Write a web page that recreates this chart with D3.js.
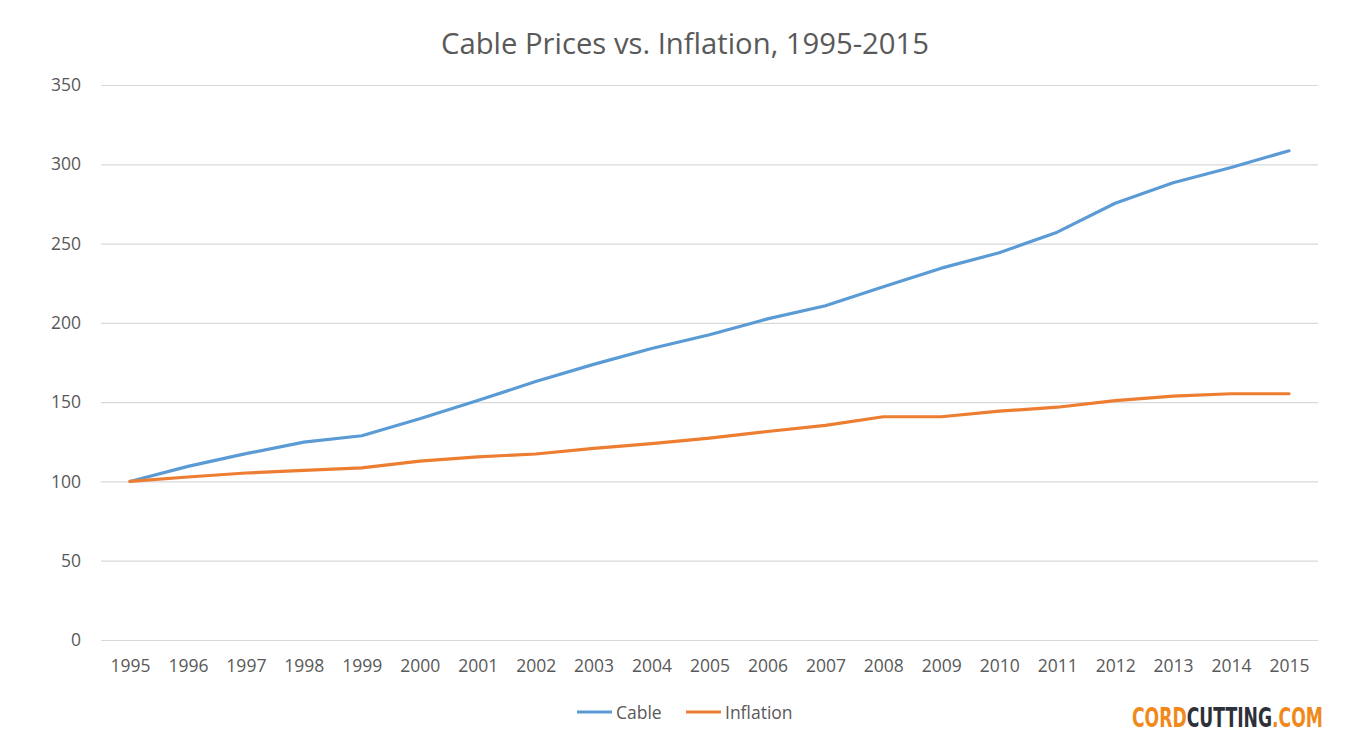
<!DOCTYPE html>
<html>
<head>
<meta charset="utf-8">
<script src="https://cdn.jsdelivr.net/npm/d3@7"></script>
<style>
  html, body { margin: 0; padding: 0; background: #fff; }
  svg { display: block; }
</style>
</head>
<body>
<svg id="chart"></svg>
<script>
const years = ["1995","1996","1997","1998","1999","2000","2001","2002","2003","2004","2005",
               "2006","2007","2008","2009","2010","2011","2012","2013","2014","2015"];
const cable = [100, 109.5, 117.5, 124.8, 128.8, 139.5, 151, 163, 173.8, 183.8, 192.5,
               202.5, 210.8, 222.8, 234.5, 244.2, 257.2, 275.4, 288.4, 298, 308.5];
const inflation = [100, 102.8, 105.3, 107, 108.5, 112.8, 115.5, 117.3, 120.8, 123.8, 127.3,
                   131.5, 135.3, 140.8, 140.8, 144.3, 146.8, 151, 153.8, 155.3, 155.3];
const yTicks = [0, 50, 100, 150, 200, 250, 300, 350];

const width = 1355, height = 743;
const svg = d3.select("#chart").attr("width", width).attr("height", height);

const plotLeft = 101, plotRight = 1318, plotTop = 85, plotBottom = 640;

const x = d3.scalePoint().domain(years).range([plotLeft, plotRight]).padding(0.5);
const y = d3.scaleLinear().domain([0, 350]).range([plotBottom, plotTop]);

const font = "'Open Sans', sans-serif";
const grey = "#595959";

// titre
svg.append("text")
  .attr("x", 441).attr("y", 54)
  .attr("font-family", font)
  .attr("font-size", 29)
  .attr("fill", grey)
  .attr("textLength", 488)
  .attr("lengthAdjust", "spacingAndGlyphs")
  .text("Cable Prices vs. Inflation, 1995-2015");

// grille
svg.append("g")
  .selectAll("line")
  .data(yTicks)
  .join("line")
  .attr("x1", plotLeft).attr("x2", plotRight)
  .attr("y1", d => y(d) + 0.5).attr("y2", d => y(d) + 0.5)
  .attr("stroke", "#d9d9d9")
  .attr("stroke-width", 1.2);

// axe Y
const yAxis = svg.append("g")
  .attr("transform", `translate(${plotLeft - 20},0)`)
  .call(d3.axisLeft(y).tickValues(yTicks).tickSize(0).tickPadding(0));
yAxis.select(".domain").remove();
yAxis.selectAll("text")
  .attr("font-family", font).attr("font-size", 17.5).attr("fill", grey);

// axe X
const xAxis = svg.append("g")
  .attr("transform", `translate(0,${plotBottom})`)
  .call(d3.axisBottom(x).tickSize(0).tickPadding(20));
xAxis.select(".domain").remove();
xAxis.selectAll("text")
  .attr("font-family", font).attr("font-size", 17.5).attr("fill", grey);

// lignes
const line = d3.line()
  .x((d, i) => x(years[i]))
  .y(d => y(d));

const series = [
  { name: "Cable", values: cable, color: "#5b9bd5" },
  { name: "Inflation", values: inflation, color: "#ed7d31" }
];

svg.append("g")
  .selectAll("path")
  .data(series)
  .join("path")
  .attr("d", d => line(d.values))
  .attr("fill", "none")
  .attr("stroke", d => d.color)
  .attr("stroke-width", 3.2)
  .attr("stroke-linejoin", "round")
  .attr("stroke-linecap", "round");

// légende
const legendX = [577, 686];
const legend = svg.append("g")
  .selectAll("g")
  .data(series)
  .join("g")
  .attr("transform", (d, i) => `translate(${legendX[i]},712)`);
legend.append("line")
  .attr("x1", 0).attr("x2", 35)
  .attr("stroke", d => d.color)
  .attr("stroke-width", 3.2);
legend.append("text")
  .attr("x", 39).attr("y", 6.5)
  .attr("font-family", font).attr("font-size", 17.5).attr("fill", grey)
  .text(d => d.name);

// logo : un seul texte, compressé horizontalement pour tenir la largeur
const logoParts = [
  { text: "CORD", color: "#f0891c" },
  { text: "CUTTING", color: "#2d3038" },
  { text: ".COM", color: "#f0891c" }
];
const logo = svg.append("text")
  .attr("x", 0).attr("y", 0)
  .attr("font-family", "'DejaVu Sans Condensed', 'DejaVu Sans', sans-serif")
  .attr("font-weight", "bold")
  .attr("font-size", 26);
logo.selectAll("tspan")
  .data(logoParts)
  .join("tspan")
  .attr("fill", d => d.color)
  .text(d => d.text);
const logoLen = logo.node().getComputedTextLength();
logo.attr("transform", `translate(1132,727) scale(${191 / logoLen},1)`);
</script>
</body>
</html>
